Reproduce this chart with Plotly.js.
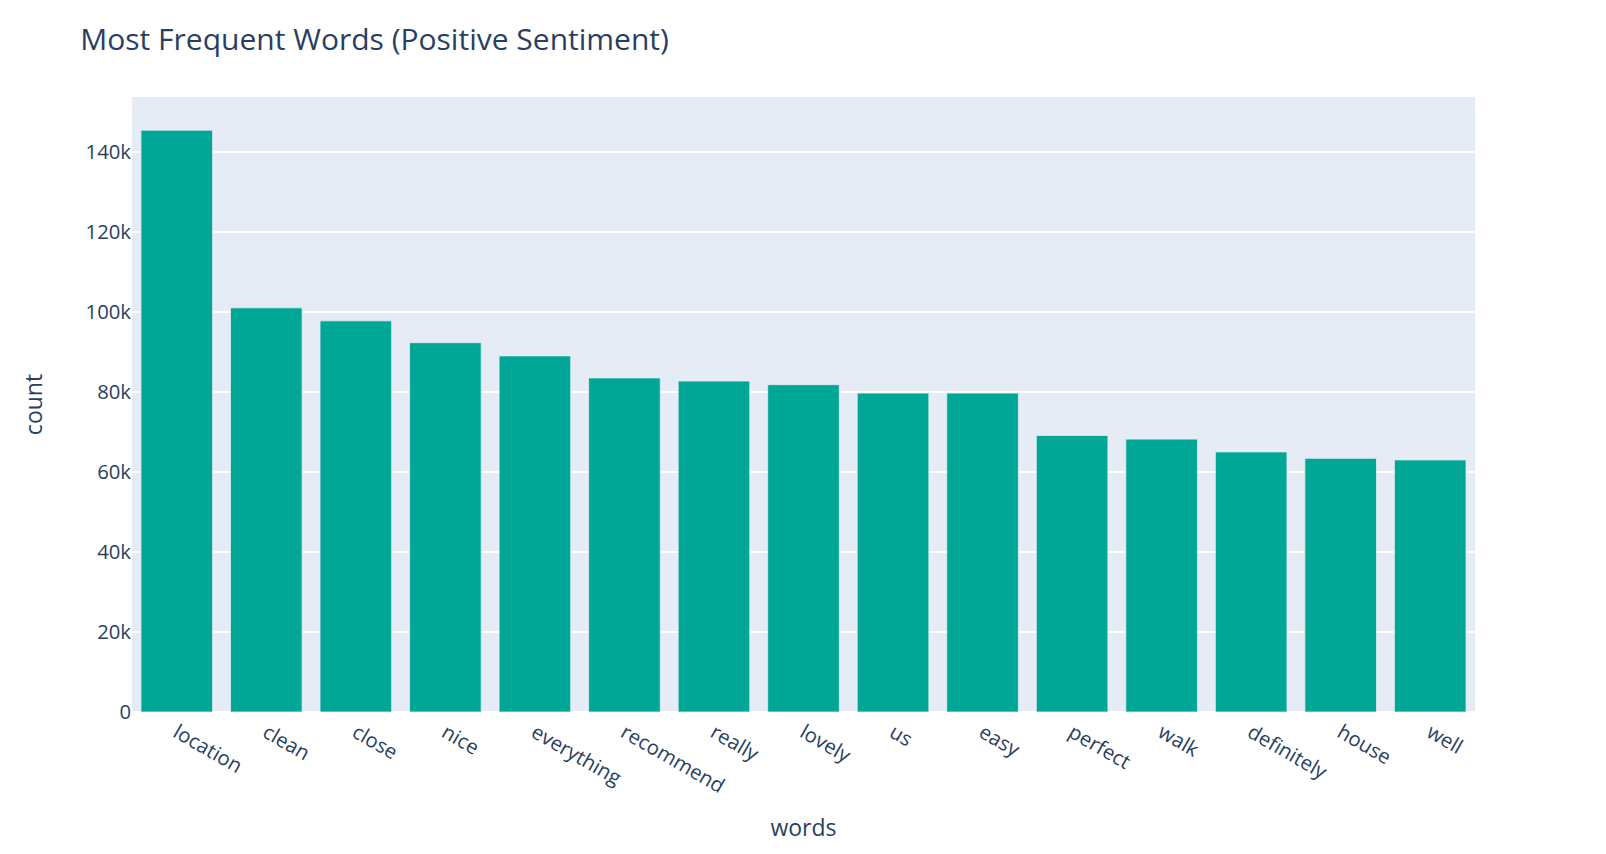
<!DOCTYPE html>
<html>
<head>
<meta charset="utf-8">
<script src="https://cdn.plot.ly/plotly-3.0.1.min.js"></script>
<style>html,body{margin:0;padding:0;background:#fff;}#chart{width:1606px;height:854px;}</style>
</head>
<body>
<div id="chart"></div>
<script>
const words = ["location","clean","close","nice","everything","recommend","really","lovely","us","easy","perfect","walk","definitely","house","well"];
const counts = [145400,101000,97750,92300,89000,83500,82700,81800,79700,79700,69100,68200,65000,63400,63000];
const yTickVals = [0,20000,40000,60000,80000,100000,120000,140000];
const yTickText = ["0","20k","40k","60k","80k","100k","120k","140k"];

const fontFamily = '"Open Sans", verdana, arial, sans-serif';
const data = [{
  type: 'bar',
  x: words,
  y: counts,
  marker: {color: '#00a696', line: {color: '#E5ECF6', width: 0.8}}
}];
const layout = {
  width: 1606, height: 854,
  margin: {l: 132, r: 131, t: 97, b: 142},
  paper_bgcolor: '#ffffff',
  plot_bgcolor: '#E5ECF6',
  font: {family: fontFamily, color: '#2a3f5f', size: 20.3},
  title: {text: 'Most Frequent Words (Positive Sentiment)', x: 0.05, xanchor: 'left',
          y: 0.954, yref: 'container', yanchor: 'middle',
          font: {size: 30, color: '#2a3f5f'}},
  bargap: 0.2,
  showlegend: false,
  xaxis: {
    title: {text: 'words', font: {size: 23}, standoff: 22},
    tickangle: 30,
    showgrid: false,
    ticks: '',
    linecolor: 'white'
  },
  yaxis: {
    title: {text: 'count', font: {size: 23}, standoff: 36},
    range: [0, 153700],
    tickvals: yTickVals,
    ticktext: yTickText,
    gridcolor: 'white',
    gridwidth: 1.6,
    zerolinecolor: 'white',
    zerolinewidth: 3,
    ticks: ''
  }
};
Plotly.newPlot('chart', data, layout, {displayModeBar: false, staticPlot: true});
</script>
</body>
</html>
